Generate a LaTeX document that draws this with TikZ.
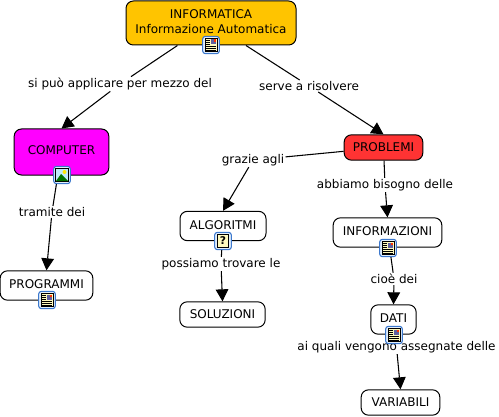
\documentclass[tikz,border=0pt]{standalone}
\usepackage{fontspec}
\setmainfont{DejaVu Sans}
\usetikzlibrary{arrows.meta}
\definecolor{iconblue}{RGB}{60,120,205}
\definecolor{iconfill}{RGB}{225,238,252}
\definecolor{docfill}{RGB}{255,250,190}
\tikzset{
  x=0.75pt,y=-0.75pt,
  concept/.style={draw=black,rounded corners=5.5pt,line width=0.75pt,inner sep=0pt,align=center,font=\fontsize{9}{11.3}\selectfont,fill=white},
  linklabel/.style={fill=white,inner sep=0.8pt,font=\fontsize{9}{11}\selectfont},
  link/.style={draw=black,line width=0.8pt},
  linkarrow/.style={link,-{Triangle[length=9pt,width=9.5pt]}},
  iconbox/.style={draw=iconblue,fill=iconfill,rounded corners=2pt,line width=0.8pt,minimum width=12.5pt,minimum height=13pt,inner sep=0pt},
}
\newcommand{\noteicon}[2]{%
  \node[iconbox] (#2) at (#1) {};
  \fill[docfill,draw=black,line width=0.6pt] ([shift={(-6,-6.5)}]#2.center) rectangle ([shift={(6,6.5)}]#2.center);
  \fill[gray!75!blue] ([shift={(-0.5,-5.5)}]#2.center) rectangle ([shift={(5,-0.5)}]#2.center);
  \fill[red!60!orange] ([shift={(2.5,-5.5)}]#2.center) rectangle ([shift={(5,-3)}]#2.center);
  \foreach \dy in {-4.5,-2.5,-0.5}{\draw[black,line width=0.5pt] ([shift={(-5,\dy)}]#2.center) -- ([shift={(-1.5,\dy)}]#2.center);}
  \foreach \dy in {1.5,3.5,5}{\draw[black,line width=0.5pt] ([shift={(-5,\dy)}]#2.center) -- ([shift={(5,\dy)}]#2.center);}
}
\newcommand{\picicon}[2]{%
  \node[iconbox] (#2) at (#1) {};
  \fill[white!75!cyan,draw=black,line width=0.6pt] ([shift={(-6.5,-6.5)}]#2.center) rectangle ([shift={(6.5,6.5)}]#2.center);
  \fill[yellow!90!orange] ([shift={(2.5,-3)}]#2.center) circle (2);
  \fill[green!45!black] ([shift={(-6,6)}]#2.center) -- ([shift={(-1,-1)}]#2.center) -- ([shift={(6,6)}]#2.center) -- cycle;
}
\newcommand{\qicon}[2]{%
  \node[iconbox] (#2) at (#1) {};
  \fill[docfill,draw=black,line width=0.6pt] ([shift={(-5.5,-6.5)}]#2.center) rectangle ([shift={(5.5,6.5)}]#2.center);
  \node[inner sep=0pt,font=\bfseries\fontsize{8}{9}\selectfont] at (#2.center) {?};
}
\newcommand{\up}[1]{\raisebox{1.5pt}{#1}}
\begin{document}
\begin{tikzpicture}
\useasboundingbox (0,0) rectangle (499,417);
% concepts
\node[concept,fill={rgb,255:red,255;green,196;blue,0},minimum width=127.5pt,minimum height=33pt] (info) at (211,23) {\up{INFORMATICA}\\\up{Informazione Automatica}};
\node[concept,fill={rgb,255:red,255;green,0;blue,255},minimum width=71pt,minimum height=34.5pt] (comp) at (61.5,152) {\raisebox{3pt}{COMPUTER}};
\node[concept,minimum width=69.5pt,minimum height=22pt] (prog) at (46.5,285.5) {\up{PROGRAMMI}};
\node[concept,fill={rgb,255:red,255;green,51;blue,51},minimum width=59pt,minimum height=19pt] (prob) at (383.5,147.5) {PROBLEMI};
\node[concept,minimum width=64.5pt,minimum height=22pt] (algo) at (223,226) {\up{ALGORITMI}};
\node[concept,minimum width=64pt,minimum height=19pt] (solu) at (222.5,314.5) {SOLUZIONI};
\node[concept,minimum width=81.5pt,minimum height=22pt] (infz) at (387.5,232.5) {\up{INFORMAZIONI}};
\node[concept,minimum width=34pt,minimum height=22pt] (dati) at (393.5,319.5) {\up{DATI}};
\node[concept,minimum width=59pt,minimum height=19pt] (vari) at (400.5,402.5) {VARIABILI};
% labels
\node[linklabel] (l1) at (120,84) {si può applicare per mezzo del};
\node[linklabel] (l2) at (309,86) {serve a risolvere};
\node[linklabel] (l3) at (52,212) {tramite dei};
\node[linklabel] (l4) at (253,160) {grazie agli};
\node[linklabel] (l5) at (385,185) {abbiamo bisogno delle};
\node[linklabel] (l6) at (221,264) {possiamo trovare le};
\node[linklabel] (l7) at (394,279) {cioè dei};
\node[linklabel] (l8) at (396.5,347) {ai quali vengono assegnate delle};
% connectors
\draw[link] (info) -- (l1);
\draw[linkarrow] (l1) -- (comp.north);
\draw[link] (info) -- (l2);
\draw[linkarrow] (l2) -- (prob.north);
\draw[link] (comp) -- (l3);
\draw[linkarrow] (l3) -- (prog.north);
\draw[link] (prob) -- (l4);
\draw[linkarrow] (l4) -- (algo.north);
\draw[link] (prob) -- (l5);
\draw[linkarrow] (l5) -- (infz.north);
\draw[link] (algo) -- (l6);
\draw[linkarrow] (l6) -- (solu.north);
\draw[link] (infz) -- (l7);
\draw[linkarrow] (l7) -- (dati.north);
\draw[link] (dati) -- (l8);
\draw[linkarrow] (l8) -- (vari.north);
% icons
\noteicon{211,45}{i1}
\picicon{62,175}{i2}
\noteicon{47,300}{i3}
\qicon{223,241}{i4}
\noteicon{388,248}{i5}
\noteicon{394,335}{i6}
\end{tikzpicture}
\end{document}
